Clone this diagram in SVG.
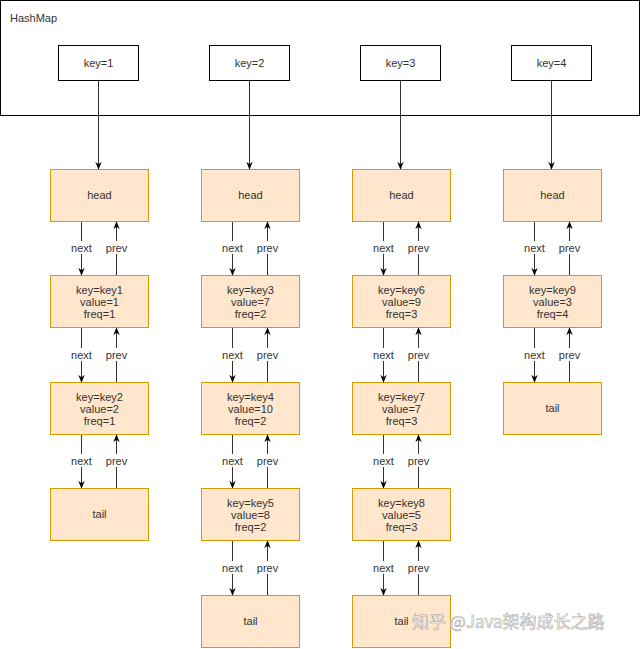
<svg xmlns="http://www.w3.org/2000/svg" width="640" height="649" viewBox="0 0 640 649">
<defs>
<marker id="a" viewBox="0 0 10 10" refX="9" refY="5" markerWidth="8" markerHeight="8" orient="auto"><path d="M0,1 L10,5 L0,9 L3,5 Z" fill="#000"/></marker>
<style>
text{font-family:"Liberation Sans",Arial,sans-serif;font-size:11px;fill:#333;text-anchor:middle}
.n{fill:#ffe6cc;stroke:#d79b00;stroke-width:1}
.k{fill:#fff;stroke:#000;stroke-width:1}
.c line{stroke:#333;stroke-width:1;marker-end:url(#a)}
.lb{fill:#fff}
</style>
</defs>
<rect width="640" height="649" fill="#fff"/>
<g id="hashmap"><rect x="0.5" y="0.5" width="639" height="115" fill="#fff" stroke="#000"/><text x="10" y="22" style="text-anchor:start">HashMap</text></g>
<g id="k1"><rect class="k" x="58.5" y="45.5" width="80" height="35"/><text x="98.5" y="67">key=1</text></g>
<g id="k2"><rect class="k" x="209.5" y="45.5" width="80" height="35"/><text x="249.5" y="67">key=2</text></g>
<g id="k3"><rect class="k" x="360.5" y="45.5" width="80" height="35"/><text x="400.5" y="67">key=3</text></g>
<g id="k4"><rect class="k" x="511.5" y="45.5" width="80" height="35"/><text x="551.5" y="67">key=4</text></g>

<g id="c1h"><rect class="n" x="50.5" y="169.5" width="98" height="52"/><text x="99.5" y="199">head</text></g>
<g id="c1n1"><rect class="n" x="50.5" y="275.5" width="98" height="52"/><text x="99.5" y="294">key=key1</text><text x="99.5" y="306">value=1</text><text x="99.5" y="318">freq=1</text></g>
<g id="c1n2"><rect class="n" x="50.5" y="382.5" width="98" height="52"/><text x="99.5" y="401">key=key2</text><text x="99.5" y="413">value=2</text><text x="99.5" y="425">freq=1</text></g>
<g id="c1t"><rect class="n" x="50.5" y="488.5" width="98" height="52"/><text x="99.5" y="518">tail</text></g>

<g id="c2h"><rect class="n" x="201.5" y="169.5" width="98" height="52"/><text x="250.5" y="199">head</text></g>
<g id="c2n1"><rect class="n" x="201.5" y="275.5" width="98" height="52"/><text x="250.5" y="294">key=key3</text><text x="250.5" y="306">value=7</text><text x="250.5" y="318">freq=2</text></g>
<g id="c2n2"><rect class="n" x="201.5" y="382.5" width="98" height="52"/><text x="250.5" y="401">key=key4</text><text x="250.5" y="413">value=10</text><text x="250.5" y="425">freq=2</text></g>
<g id="c2n3"><rect class="n" x="201.5" y="488.5" width="98" height="52"/><text x="250.5" y="507">key=key5</text><text x="250.5" y="519">value=8</text><text x="250.5" y="531">freq=2</text></g>
<g id="c2t"><rect class="n" x="201.5" y="595.5" width="98" height="52"/><text x="250.5" y="625">tail</text></g>

<g id="c3h"><rect class="n" x="352.5" y="169.5" width="98" height="52"/><text x="401.5" y="199">head</text></g>
<g id="c3n1"><rect class="n" x="352.5" y="275.5" width="98" height="52"/><text x="401.5" y="294">key=key6</text><text x="401.5" y="306">value=9</text><text x="401.5" y="318">freq=3</text></g>
<g id="c3n2"><rect class="n" x="352.5" y="382.5" width="98" height="52"/><text x="401.5" y="401">key=key7</text><text x="401.5" y="413">value=7</text><text x="401.5" y="425">freq=3</text></g>
<g id="c3n3"><rect class="n" x="352.5" y="488.5" width="98" height="52"/><text x="401.5" y="507">key=key8</text><text x="401.5" y="519">value=5</text><text x="401.5" y="531">freq=3</text></g>
<g id="c3t"><rect class="n" x="352.5" y="595.5" width="98" height="52"/><text x="401.5" y="625">tail</text></g>

<g id="c4h"><rect class="n" x="503.5" y="169.5" width="98" height="52"/><text x="552.5" y="199">head</text></g>
<g id="c4n1"><rect class="n" x="503.5" y="275.5" width="98" height="52"/><text x="552.5" y="294">key=key9</text><text x="552.5" y="306">value=3</text><text x="552.5" y="318">freq=4</text></g>
<g id="c4t"><rect class="n" x="503.5" y="382.5" width="98" height="52"/><text x="552.5" y="412">tail</text></g>

<g class="c" id="connectors">
<line x1="98.5" y1="80.5" x2="98.5" y2="169"/>
<line x1="249.5" y1="80.5" x2="249.5" y2="169"/>
<line x1="400.5" y1="80.5" x2="400.5" y2="169"/>
<line x1="551.5" y1="80.5" x2="551.5" y2="169"/>
<line x1="81.5" y1="222" x2="81.5" y2="275"/><line x1="116.5" y1="275" x2="116.5" y2="222"/>
<line x1="81.5" y1="328" x2="81.5" y2="382"/><line x1="116.5" y1="382" x2="116.5" y2="328"/>
<line x1="81.5" y1="435" x2="81.5" y2="488"/><line x1="116.5" y1="488" x2="116.5" y2="435"/>
<line x1="232.5" y1="222" x2="232.5" y2="275"/><line x1="267.5" y1="275" x2="267.5" y2="222"/>
<line x1="232.5" y1="328" x2="232.5" y2="382"/><line x1="267.5" y1="382" x2="267.5" y2="328"/>
<line x1="232.5" y1="435" x2="232.5" y2="488"/><line x1="267.5" y1="488" x2="267.5" y2="435"/>
<line x1="232.5" y1="541" x2="232.5" y2="595"/><line x1="267.5" y1="595" x2="267.5" y2="541"/>
<line x1="383.5" y1="222" x2="383.5" y2="275"/><line x1="418.5" y1="275" x2="418.5" y2="222"/>
<line x1="383.5" y1="328" x2="383.5" y2="382"/><line x1="418.5" y1="382" x2="418.5" y2="328"/>
<line x1="383.5" y1="435" x2="383.5" y2="488"/><line x1="418.5" y1="488" x2="418.5" y2="435"/>
<line x1="383.5" y1="541" x2="383.5" y2="595"/><line x1="418.5" y1="595" x2="418.5" y2="541"/>
<line x1="534.5" y1="222" x2="534.5" y2="275"/><line x1="569.5" y1="275" x2="569.5" y2="222"/>
<line x1="534.5" y1="328" x2="534.5" y2="382"/><line x1="569.5" y1="382" x2="569.5" y2="328"/>
</g>
<g id="labels">
<g>
<rect class="lb" x="68" y="241" width="28" height="13"/><text x="81.5" y="252">next</text><rect class="lb" x="104" y="241" width="25" height="13"/><text x="116.5" y="252">prev</text>
<rect class="lb" x="68" y="348" width="28" height="13"/><text x="81.5" y="359">next</text><rect class="lb" x="104" y="348" width="25" height="13"/><text x="116.5" y="359">prev</text>
<rect class="lb" x="68" y="454" width="28" height="13"/><text x="81.5" y="465">next</text><rect class="lb" x="104" y="454" width="25" height="13"/><text x="116.5" y="465">prev</text>
</g>
<g transform="translate(151,0)">
<rect class="lb" x="68" y="241" width="28" height="13"/><text x="81.5" y="252">next</text><rect class="lb" x="104" y="241" width="25" height="13"/><text x="116.5" y="252">prev</text>
<rect class="lb" x="68" y="348" width="28" height="13"/><text x="81.5" y="359">next</text><rect class="lb" x="104" y="348" width="25" height="13"/><text x="116.5" y="359">prev</text>
<rect class="lb" x="68" y="454" width="28" height="13"/><text x="81.5" y="465">next</text><rect class="lb" x="104" y="454" width="25" height="13"/><text x="116.5" y="465">prev</text>
<rect class="lb" x="68" y="561" width="28" height="13"/><text x="81.5" y="572">next</text><rect class="lb" x="104" y="561" width="25" height="13"/><text x="116.5" y="572">prev</text>
</g>
<g transform="translate(302,0)">
<rect class="lb" x="68" y="241" width="28" height="13"/><text x="81.5" y="252">next</text><rect class="lb" x="104" y="241" width="25" height="13"/><text x="116.5" y="252">prev</text>
<rect class="lb" x="68" y="348" width="28" height="13"/><text x="81.5" y="359">next</text><rect class="lb" x="104" y="348" width="25" height="13"/><text x="116.5" y="359">prev</text>
<rect class="lb" x="68" y="454" width="28" height="13"/><text x="81.5" y="465">next</text><rect class="lb" x="104" y="454" width="25" height="13"/><text x="116.5" y="465">prev</text>
<rect class="lb" x="68" y="561" width="28" height="13"/><text x="81.5" y="572">next</text><rect class="lb" x="104" y="561" width="25" height="13"/><text x="116.5" y="572">prev</text>
</g>
<g transform="translate(453,0)">
<rect class="lb" x="68" y="241" width="28" height="13"/><text x="81.5" y="252">next</text><rect class="lb" x="104" y="241" width="25" height="13"/><text x="116.5" y="252">prev</text>
<rect class="lb" x="68" y="348" width="28" height="13"/><text x="81.5" y="359">next</text><rect class="lb" x="104" y="348" width="25" height="13"/><text x="116.5" y="359">prev</text>
</g>
</g>
<text x="412" y="628" style="text-anchor:start;font-family:'Noto Sans CJK SC',sans-serif;font-size:17px;fill:#fff;fill-opacity:0.75;stroke:#aaa;stroke-width:0.6">知乎 @Java架构成长之路</text>
</svg>
